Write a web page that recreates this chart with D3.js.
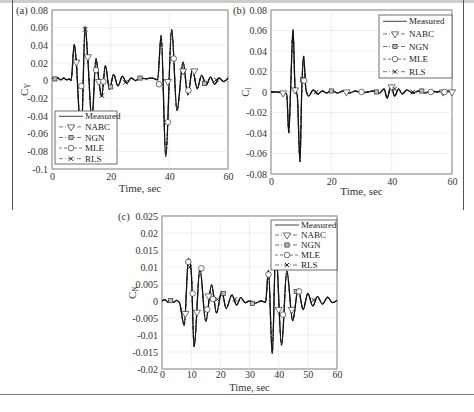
<!DOCTYPE html>
<html><head><meta charset="utf-8">
<script src="https://cdn.jsdelivr.net/npm/d3@7"></script>
<style>body{margin:0;background:#fff}svg{font-family:"Liberation Serif","DejaVu Serif",serif}</style>
</head><body><svg id="c" width="474" height="412"></svg>
<script>
const seriesNames=["Measured","NABC","NGN","MLE","RLS"];
const timeTicks=[0,20,40,60];
const timeTicksC=[0,10,20,30,40,50,60];
const cyTicks=[0.08,0.06,0.04,0.02,0,-0.02,-0.04,-0.06,-0.08,-0.1];
const clTicks=[0.08,0.06,0.04,0.02,0,-0.02,-0.04,-0.06,-0.08];
const cnTicks=[0.025,0.02,0.015,0.01,0.005,0,-0.005,-0.01,-0.015,-0.02];
// measured [t, value]
const cyMeasured=[[0,.003],[1,.002],[2,.003],[3,.001],[4,.003],[5,.001],[6,.002],[6.5,0],[7.6,.041],[8.3,.02],[9.3,-.04],[10,-.06],[11.3,.061],[12.2,.025],[13.6,-.045],[15,.025],[16,0],[16.9,-.018],[18.2,.017],[19.6,-.01],[21,.007],[22.5,-.006],[24,.005],[25.5,-.003],[27,.003],[28.5,0],[30,.003],[32,.002],[34,.003],[36,.001],[37.2,.051],[38.8,-.086],[40.8,.058],[42.6,-.034],[44.7,.021],[46.3,-.016],[47.9,.013],[49.5,-.009],[51,.006],[52.6,-.005],[54,.004],[55.5,-.004],[57,.003],[58.5,-.001],[60,.003]];
const clMeasured=[[0,0],[2,0],[4,-.001],[5.2,-.002],[5.9,-.04],[6.5,.002],[7.3,.061],[8,.003],[8.7,-.003],[9.6,-.068],[10.2,.002],[10.8,.035],[11.6,.002],[12.5,-.004],[14,.002],[15.5,-.002],[17,.001],[18.5,-.001],[20,.002],[22,-.001],[24,.001],[26,-.001],[28,.001],[30,-.001],[32,0],[34,.001],[36,-.001],[37.5,.003],[38.5,-.006],[39.8,.006],[41,-.004],[42.3,.003],[43.5,-.002],[45,.002],[47,-.001],[49,.001],[51,-.001],[53,.001],[55,0],[57,.001],[60,0]];
const cnMeasured=[[0,0],[1,.0004],[2,-.0003],[3,.0003],[4,-.0004],[5,.0002],[6,-.0005],[7.6,-.0072],[9.1,.0125],[10,.009],[11,-.0135],[13,.0095],[15,-.006],[17,.0047],[18.7,-.0035],[20.5,.0028],[22,-.0022],[24,.0018],[25.6,-.0012],[27,.001],[28.5,-.0005],[30,0],[32,-.0006],[34,0],[35.5,-.0004],[36.5,.009],[37.8,-.0155],[39,.015],[41,-.013],[42.8,.0088],[44.8,-.0058],[46.7,.0035],[48.4,-.0025],[50,.0022],[51.7,-.0015],[53.3,.0013],[55,-.0009],[56.8,.0011],[58.5,-.0005],[60,.0002]];
// model markers [t, value]
const cyMarkers={NABC:[[8.3,.021],[12.2,.027],[16,-.001],[39.5,-.001],[44.7,.011],[48.5,.011]],NGN:[[1,.002],[20,-.007],[30,.003],[52,-.003]],MLE:[[10,-.006],[15,.012],[17.5,-.001],[36.5,-.004],[39.5,-.047],[41.5,.025],[46.5,-.011]],RLS:[[11.3,.058],[17,-.017],[25,-.002],[56,.001]]};
const clMarkers={NABC:[[4,-.001],[8,.002],[25,0],[40,.005],[57,0],[60,0]],NGN:[[10.5,.012],[20,.001],[35,0],[50,.001]],MLE:[[11,.011],[30,0],[53,0],[57.5,0]],RLS:[[15,0],[41,.003],[47,0]]};
const cnMarkers={NABC:[[8,-.0037],[12,-.0033],[16,.0015],[40,-.0025],[44.5,-.0025]],NGN:[[3,.0001],[21,.0022],[31,-.0007],[46,.0028]],MLE:[[9,.0115],[10.5,.0022],[13.5,.0096],[15.5,-.0025],[17.5,.0006],[36.5,.0078],[41.5,-.004],[47,.0028]],RLS:[[9.5,.01],[19,.0005],[25,.0005],[52,.0003]]};

const svg=d3.select("#c");
svg.append("rect").attr("x",0).attr("y",0).attr("width",474).attr("height",3).attr("fill","#ccc");
svg.append("line").attr("x1",12.5).attr("x2",12.5).attr("y1",0).attr("y2",210).attr("stroke","#555");
svg.append("line").attr("x1",463.5).attr("x2",463.5).attr("y1",0).attr("y2",210).attr("stroke","#555");
svg.append("line").attr("x1",0).attr("x2",474).attr("y1",394.5).attr("y2",394.5).attr("stroke","#777");

const dash={Measured:null,NABC:"4,2,1,2",NGN:"4,2,1,2",MLE:"3,2",RLS:"4,2,1,2"};
function marker(g,name,x,y){
  const s=2.6;
  if(name==="NABC")g.append("path").attr("d",d3.symbol(d3.symbolTriangle,22)()).attr("transform",`translate(${x},${y}) rotate(180)`).attr("fill","#fff").attr("stroke","#333").attr("stroke-width",0.7);
  else if(name==="NGN")g.append("rect").attr("x",x-s+0.5).attr("y",y-s+0.5).attr("width",2*s-1).attr("height",2*s-1).attr("fill","#bbb").attr("stroke","#333").attr("stroke-width",0.7);
  else if(name==="MLE")g.append("circle").attr("cx",x).attr("cy",y).attr("r",2.8).attr("fill","#fff").attr("stroke","#333").attr("stroke-width",0.7);
  else if(name==="RLS")g.append("path").attr("d",d3.symbol(d3.symbolX,14)()).attr("transform",`translate(${x},${y})`).attr("fill","none").attr("stroke","#222").attr("stroke-width",1);
}
function panel(o){
  const x=d3.scaleLinear().domain([0,60]).range([o.x0,o.x1]);
  const y=d3.scaleLinear().domain([o.yt[o.yt.length-1],o.yt[0]]).range([o.y1,o.y0]);
  const g=svg.append("g");
  g.append("rect").attr("x",o.x0).attr("y",o.y0).attr("width",o.x1-o.x0).attr("height",o.y1-o.y0).attr("fill","#fff").attr("stroke","#333").attr("stroke-width",0.8);
  o.xt.forEach(t=>{g.append("line").attr("x1",x(t)).attr("x2",x(t)).attr("y1",o.y0).attr("y2",o.y1).attr("stroke","#e2e2e2").attr("stroke-width",0.6);});
  o.yt.forEach(t=>{g.append("line").attr("x1",o.x0).attr("x2",o.x1).attr("y1",y(t)).attr("y2",y(t)).attr("stroke","#e2e2e2").attr("stroke-width",0.6);});
  g.append("g").attr("transform",`translate(0,${o.y1})`).call(d3.axisBottom(x).tickValues(o.xt).tickSize(0).tickPadding(o.tp).tickFormat(d3.format("d"))).call(a=>{a.select(".domain").remove();a.selectAll("text").attr("font-size",10).attr("fill","#333").attr("font-family","Liberation Serif,serif");});
  g.append("g").attr("transform",`translate(${o.x0},0)`).call(d3.axisLeft(y).tickValues(o.yt).tickSize(0).tickPadding(4).tickFormat(d=>String(+d.toFixed(3)))).call(a=>{a.select(".domain").remove();a.selectAll("text").attr("font-size",10).attr("fill","#333").attr("font-family","Liberation Serif,serif");});
  const line=d3.line().x(d=>x(d[0])).y(d=>y(d[1])).curve(d3.curveMonotoneX);
  ["RLS","MLE","NGN","NABC"].forEach(n=>g.append("path").attr("d",line(o.data)).attr("fill","none").attr("stroke","#555").attr("stroke-width",0.8).attr("stroke-dasharray",dash[n]));
  g.append("path").attr("d",line(o.data)).attr("fill","none").attr("stroke","#111").attr("stroke-width",1.3);
  Object.entries(o.markers).forEach(([n,arr])=>arr.forEach(d=>marker(g,n,x(d[0]),y(d[1]))));
  g.append("text").attr("x",(o.x0+o.x1)/2).attr("y",o.y1+o.tly).attr("text-anchor","middle").attr("font-size",o.tfs).attr("fill","#333").text("Time, sec");
  const yl=g.append("text").attr("transform",`translate(${o.ylx},${(o.y0+o.y1)/2}) rotate(-90)`).attr("text-anchor","middle").attr("font-size",11).attr("fill","#333");
  yl.append("tspan").text("C");yl.append("tspan").attr("font-size",7.5).attr("dy",2).text(o.sub);
  g.append("text").attr("x",o.lblx).attr("y",o.y0+4).attr("font-size",10.5).attr("fill","#333").text(o.lbl);
  const L=g.append("g");
  L.append("rect").attr("x",o.lx).attr("y",o.ly).attr("width",o.lw).attr("height",o.lh).attr("fill","#fff").attr("stroke","#333").attr("stroke-width",0.7);
  const step=o.lh/5;
  seriesNames.forEach((n,i)=>{
    const yy=o.ly+step*(i+0.5);
    L.append("line").attr("x1",o.lx+4).attr("x2",o.lx+28).attr("y1",yy).attr("y2",yy).attr("stroke",n==="Measured"?"#111":"#555").attr("stroke-width",0.8).attr("stroke-dasharray",dash[n]);
    if(n!=="Measured")marker(L,n,o.lx+16,yy);
    L.append("text").attr("x",o.lx+30).attr("y",yy+3).attr("font-size",9).attr("fill","#222").text(n);
  });
}
panel({x0:52,x1:228,y0:10,y1:169,xt:timeTicks,yt:cyTicks,data:cyMeasured,markers:cyMarkers,sub:"Y",ylx:28,lbl:"(a)",lblx:16,lx:55,ly:111,lw:62,lh:53,tly:23,tp:4,tfs:11});
panel({x0:271,x1:452,y0:10,y1:174,xt:timeTicks,yt:clTicks,data:clMeasured,markers:clMarkers,sub:"l",ylx:249,lbl:"(b)",lblx:233,lx:379,ly:15,lw:73,lh:63,tly:21,tp:4,tfs:11});
panel({x0:162,x1:337,y0:216,y1:369,xt:timeTicksC,yt:cnTicks,data:cnMeasured,markers:cnMarkers,sub:"N",ylx:136,lbl:"(c)",lblx:118,lx:271,ly:220,lw:66,lh:50,tly:22,tp:2,tfs:10.5});
</script></body></html>
